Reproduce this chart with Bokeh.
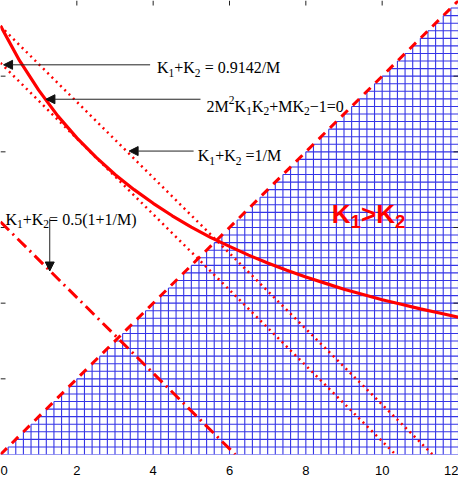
import math
from bokeh.plotting import figure
from bokeh.models import (Range1d, LinearAxis, FixedTicker, Arrow, NormalHead,
                          ColumnDataSource)
from bokeh.core.properties import value
from bokeh.embed import file_html
from bokeh.resources import INLINE

# ---------------- data ----------------
x_ticks = [0, 2, 4, 6, 8, 10, 12]
y_ticks = [0, 2, 4, 6, 8, 10, 12]
inv_M = 11.32          # K1+K2 = 1/M
c_09142 = 10.35        # K1+K2 = 0.9142/M
c_half = 6.15          # K1+K2 = 0.5(1+1/M)
# curve 2M^2 K1 K2 + M K2 - 1 = 0
curve_k1 = [0, 0.5, 1, 1.5, 2, 2.5, 3, 3.5, 4, 4.5, 5, 5.5, 6, 6.5, 7, 7.5,
            8, 8.5, 9, 9.5, 10, 10.5, 11, 11.5, 12]
curve_k2 = [11.33, 10.41, 9.63, 8.95, 8.37, 7.86, 7.40, 7.00, 6.64, 6.31,
            6.01, 5.74, 5.50, 5.27, 5.06, 4.87, 4.69, 4.53, 4.37, 4.23,
            4.09, 3.97, 3.85, 3.74, 3.63]
diag = [0, 12]

RED = "#ff0000"
BLUE = "#3535e6"
NBSP = "\u00a0"

p = figure(width=458, height=477, x_range=Range1d(0, 12), y_range=Range1d(0, 12),
           output_backend="svg", toolbar_location=None,
           x_axis_location=None, y_axis_location=None, min_border=0)
p.grid.visible = False
p.outline_line_color = None
p.background_fill_color = "white"

# ---------------- bottom axis ----------------
bottom = LinearAxis(ticker=FixedTicker(ticks=x_ticks))
bottom.major_label_text_font = "Liberation Sans"
bottom.major_label_text_font_size = "13px"
bottom.major_label_text_color = "black"
bottom.major_label_standoff = 5
bottom.major_tick_line_color = None
bottom.minor_tick_line_color = None
bottom.axis_line_color = None
p.add_layout(bottom, "below")

# ---------------- hatched region K1 > K2 ----------------
step = 0.2
n = int(round(12 / step))
vx0, vy0, vx1, vy1 = [], [], [], []
for k in range(1, n + 1):
    x = k * step
    vx0.append(x); vy0.append(0); vx1.append(x); vy1.append(x)
hx0, hy0, hx1, hy1 = [], [], [], []
for k in range(0, n):
    y = k * step
    hx0.append(y); hy0.append(y); hx1.append(12); hy1.append(y)
p.segment(vx0, vy0, vx1, vy1, line_color=BLUE, line_width=1.1)
p.segment(hx0, hy0, hx1, hy1, line_color=BLUE, line_width=1.1)

# ---------------- inward box ticks (left, right, top) ----------------
inner_y = [t for t in y_ticks if 0 < t < 12]
inner_x = [t for t in x_ticks if 0 < t < 12]
p.ray(x=[0] * len(inner_y), y=inner_y, length=5, angle=0, length_units="screen",
      line_color="#222222", line_width=1)
p.ray(x=[12] * len(inner_y), y=inner_y, length=5, angle=math.pi,
      length_units="screen", line_color="#222222", line_width=1)
p.ray(x=inner_x, y=[12] * len(inner_x), length=5, angle=-math.pi / 2,
      length_units="screen", line_color="#222222", line_width=1)

# ---------------- lines ----------------
p.line([0, inv_M], [inv_M, 0], line_color=RED, line_width=2.5, line_dash="2 4")
p.line([0, c_09142], [c_09142, 0], line_color=RED, line_width=2.5, line_dash="2 4")
p.line([0, c_half], [c_half, 0], line_color=RED, line_width=3, line_dash="12 5 2 5")
p.line(diag, diag, line_color=RED, line_width=3, line_dash="9 7")
p.line(curve_k1, curve_k2, line_color=RED, line_width=3.2)

# ---------------- arrows ----------------
arrows = [((3.92, 10.30), (0.08, 10.30)),
          ((5.24, 9.39), (1.19, 9.39)),
          ((5.06, 8.02), (3.37, 8.02)),
          ((1.29, 6.24), (1.29, 4.85))]
for (xs, ys), (xe, ye) in arrows:
    p.add_layout(Arrow(x_start=xs, y_start=ys, x_end=xe, y_end=ye,
                       line_color="#222222", line_width=1,
                       end=NormalHead(size=9, fill_color="#111111",
                                      line_color="#111111", line_width=1)))

# ---------------- rich text with subscripts ----------------
SERIF_W = {"K": .722, "+": .564, " ": .25, NBSP: .25, "=": .564, ".": .25,
           "/": .278, "M": .889, "(": .333, ")": .333, "\u2212": .564,
           ">": .564, "\u00b2": .5}
SANSB_W = {"K": .722, ">": .584}


def rich(x, y, runs, size, table, default_w, sub_scale, drop, rise, rows):
    off = 0.0
    for txt, kind in runs:
        fs = size if kind == "n" else size * sub_scale
        dy = 0 if kind == "n" else (drop if kind == "sub" else -rise)
        rows["x"].append(x); rows["y"].append(y)
        rows["text"].append(txt.replace(" ", NBSP))
        rows["xo"].append(off); rows["yo"].append(dy)
        rows["fs"].append(f"{fs:.1f}px")
        off += sum(table.get(c, default_w) for c in txt) * fs


serif_rows = dict(x=[], y=[], text=[], xo=[], yo=[], fs=[])
rich(4.1, 10.22, [("K", "n"), ("1", "sub"), ("+K", "n"), ("2", "sub"),
                  (" = 0.9142/M", "n")], 16, SERIF_W, 0.5, 0.72, 5, 6, serif_rows)
rich(5.4, 9.21, [("2M", "n"), ("2", "sup"), ("K", "n"), ("1", "sub"), ("K", "n"),
                 ("2", "sub"), ("+MK", "n"), ("2", "sub"), ("\u22121=0", "n")],
     16, SERIF_W, 0.5, 0.72, 5, 6, serif_rows)
rich(5.17, 7.89, [("K", "n"), ("1", "sub"), ("+K", "n"), ("2", "sub"),
                  (" =1/M", "n")], 16, SERIF_W, 0.5, 0.72, 5, 6, serif_rows)
rich(0.13, 6.22, [("K", "n"), ("1", "sub"), ("+K", "n"), ("2", "sub"),
                  ("= 0.5(1+1/M)", "n")], 16, SERIF_W, 0.5, 0.72, 5, 6, serif_rows)
p.text(x="x", y="y", text="text", x_offset="xo", y_offset="yo",
       text_font_size="fs", source=ColumnDataSource(serif_rows),
       text_font=value("Liberation Serif"), text_color="black",
       text_align="left", text_baseline="alphabetic")

big_rows = dict(x=[], y=[], text=[], xo=[], yo=[], fs=[])
rich(8.68, 6.37, [("K", "n"), ("1", "sub"), (">K", "n"), ("2", "sub")],
     26, SANSB_W, 0.556, 0.72, 8, 0, big_rows)
p.text(x="x", y="y", text="text", x_offset="xo", y_offset="yo",
       text_font_size="fs", source=ColumnDataSource(big_rows),
       text_font=value("Liberation Sans"), text_font_style="bold",
       text_color=RED, text_align="left", text_baseline="alphabetic")

open("out.html", "w").write(file_html(p, INLINE))
